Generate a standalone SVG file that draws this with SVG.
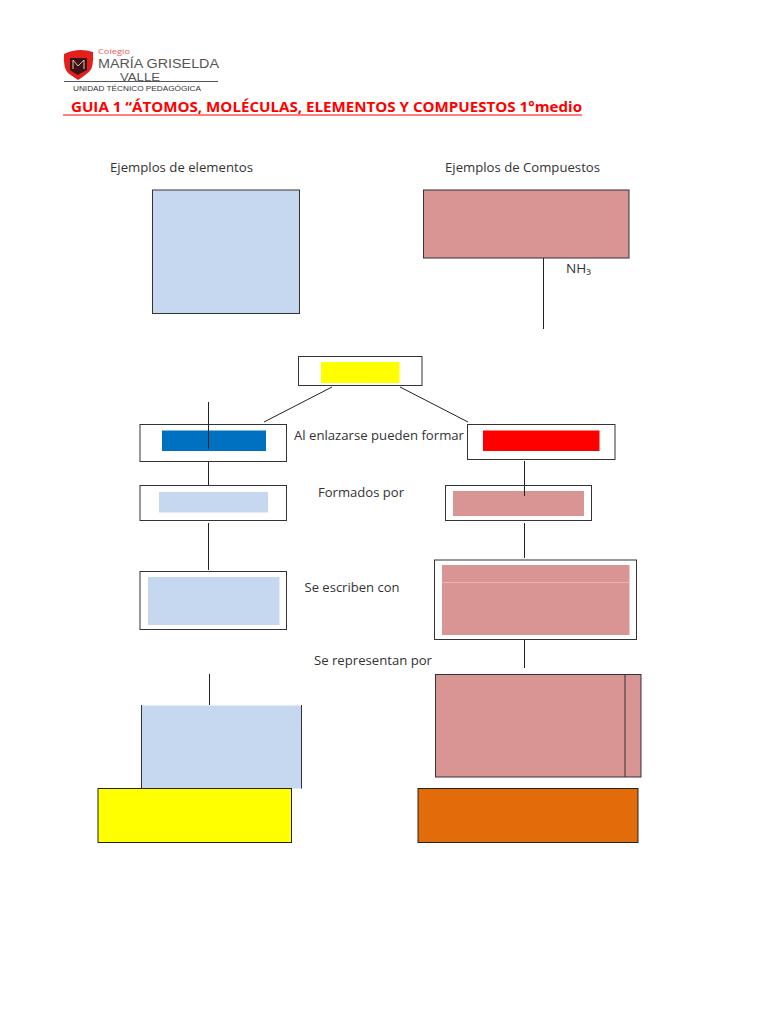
<svg xmlns="http://www.w3.org/2000/svg" width="768" height="1024" viewBox="0 0 768 1024">
<style>
text{font-family:"Open Sans","Liberation Sans",sans-serif;fill:#333;font-size:12.5px}
.e{stroke:#333;stroke-width:1;fill:none}
.c{stroke:#222;stroke-width:1;fill:none}
.b{fill:#fff;stroke:#333;stroke-width:1}
.lb{fill:#c6d8f0}
.rs{fill:#d99594}
.y{fill:#ff0}
.o{fill:#e36c0a}
.logo{font-family:"Liberation Sans",sans-serif;fill:#555}
</style>
<rect width="768" height="1024" fill="#fff"/>
<g id="logo">
<path d="M64 54Q78 47 93 52Q94 68 89 72Q83 77 78 80Q72 76 68 73Q63 68 64 54Z" fill="#e3201e"/>
<path d="M70 58H87V70Q81 73 78 75Q74 73 70 70Z" fill="#3a1414"/>
<path d="M73 60V69M84 60V69M73 60L78 66L84 60" stroke="#e8c0b0" stroke-width="1" fill="none"/>
<text x="98" y="53.500" style="font-size:8px;fill:#ef5a5a" textLength="32" lengthAdjust="spacingAndGlyphs">Colegio</text>
<text class="logo" x="98" y="67.500" style="font-size:12.500px" textLength="121" lengthAdjust="spacingAndGlyphs">MARÍA GRISELDA</text>
<text class="logo" x="120" y="80.500" style="font-size:11px" textLength="40" lengthAdjust="spacingAndGlyphs">VALLE</text>
<line x1="64" y1="81.500" x2="218" y2="81.500" stroke="#555" stroke-width="1"/>
<text class="logo" x="73" y="90.500" style="font-size:7.500px;fill:#333" textLength="128" lengthAdjust="spacingAndGlyphs">UNIDAD TÉCNICO PEDAGÓGICA</text>
</g>
<g id="title">
<text x="71" y="112" style="font-size:14.500px;font-weight:700;fill:#f00" textLength="511" lengthAdjust="spacingAndGlyphs">GUIA 1 “ÁTOMOS, MOLÉCULAS, ELEMENTOS Y COMPUESTOS 1°medio</text>
<line x1="63" y1="115" x2="582" y2="115" stroke="#f00" stroke-width="1.200"/>
</g>
<g id="labels">
<text x="110" y="172" textLength="143" lengthAdjust="spacingAndGlyphs">Ejemplos de elementos</text>
<text x="445" y="172" textLength="155" lengthAdjust="spacingAndGlyphs">Ejemplos de Compuestos</text>
<text x="566" y="273" textLength="25" lengthAdjust="spacingAndGlyphs">NH₃</text>
<text x="294" y="440" textLength="170" lengthAdjust="spacingAndGlyphs">Al enlazarse pueden formar</text>
<text x="318" y="497" textLength="86" lengthAdjust="spacingAndGlyphs">Formados por</text>
<text x="304.500" y="592" textLength="95" lengthAdjust="spacingAndGlyphs">Se escriben con</text>
<text x="314" y="665" textLength="118" lengthAdjust="spacingAndGlyphs">Se representan por</text>
</g>
<g id="node-ejemplos-elementos"><rect class="e lb" x="152.500" y="190" width="147" height="123.500"/></g>
<g id="node-ejemplos-compuestos"><rect class="e rs" x="423.500" y="190" width="205.500" height="68"/></g>
<g id="node-top"><rect class="b" x="298.500" y="356.500" width="123.500" height="29"/><rect class="y" x="321" y="362" width="78.500" height="21"/></g>
<g id="node-elementos"><rect class="b" x="140" y="424.500" width="146.500" height="37"/><rect x="162" y="430.500" width="104" height="20.500" fill="#0070c0"/></g>
<g id="node-compuestos"><rect class="b" x="467.500" y="424.500" width="147.500" height="35"/><rect x="483" y="430.500" width="116.500" height="20.500" fill="#f00"/></g>
<g id="node-formados-izq"><rect class="b" x="140" y="485.500" width="146.500" height="35"/><rect class="lb" x="159" y="492" width="109" height="20.500"/></g>
<g id="node-formados-der"><rect class="b" x="445.500" y="485.500" width="146" height="35"/><rect class="rs" x="453" y="491" width="131" height="25"/></g>
<g id="node-escriben-izq"><rect class="b" x="140" y="571.500" width="146.500" height="58"/><rect class="lb" x="148" y="577" width="131.500" height="48"/></g>
<g id="node-escriben-der"><rect class="b" x="434.500" y="560" width="202" height="79.500"/><rect class="rs" x="442" y="565" width="187.500" height="70"/><line x1="442" y1="582.500" x2="629.500" y2="582.500" stroke="#e8b4b3" stroke-width="1"/></g>
<g id="node-representan-izq"><rect class="lb" x="141.500" y="705.500" width="160" height="83"/><path class="e" d="M141.500 705V788.500M301.500 705V788.500"/></g>
<g id="node-representan-der"><rect class="e rs" x="435.500" y="674.500" width="205.500" height="102.500"/><line class="e" x1="625" y1="675" x2="625" y2="777"/></g>
<g id="node-amarillo"><rect class="c y" x="98" y="788.500" width="193.500" height="54"/></g>
<g id="node-naranja"><rect class="c o" x="418" y="788.500" width="220" height="54"/></g>
<g id="connectors">
<line class="c" x1="543.500" y1="258" x2="543.500" y2="329"/>
<line class="c" x1="332" y1="387" x2="264" y2="422"/>
<line class="c" x1="400" y1="387" x2="468" y2="422"/>
<line class="c" x1="208.500" y1="402" x2="208.500" y2="449"/>
<line class="c" x1="208.500" y1="462" x2="208.500" y2="485"/>
<line class="c" x1="524.500" y1="461" x2="524.500" y2="496"/>
<line class="c" x1="208.500" y1="523" x2="208.500" y2="570"/>
<line class="c" x1="524.500" y1="523" x2="524.500" y2="558"/>
<line class="c" x1="524.500" y1="640" x2="524.500" y2="668"/>
<line class="c" x1="209.500" y1="674" x2="209.500" y2="705"/>
</g>
</svg>
